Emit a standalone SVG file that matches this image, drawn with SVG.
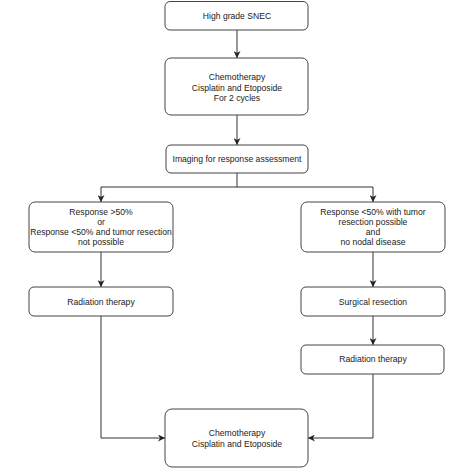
<svg xmlns="http://www.w3.org/2000/svg" width="474" height="474" viewBox="0 0 474 474">
<style>
.box{fill:#fff;stroke:#444;stroke-width:1}
.t{font-family:"Liberation Sans",Arial,sans-serif;font-size:8.6px;fill:#222;text-anchor:middle}
.c{fill:none;stroke:#333;stroke-width:1}
</style>
<defs>
<marker id="ah" viewBox="0 0 10 10" refX="10" refY="5" markerWidth="7" markerHeight="7" markerUnits="userSpaceOnUse" orient="auto">
<path d="M0,0 L10,5 L0,10 L3,5 z" fill="#222"/>
</marker>
</defs>
<rect width="474" height="474" fill="#fff"/>
<g id="connectors">
<path class="c" d="M237,30 V58" marker-end="url(#ah)"/>
<path class="c" d="M237,115 V145" marker-end="url(#ah)"/>
<path class="c" d="M237,173 V187"/>
<path class="c" d="M101,187 H373"/>
<path class="c" d="M101,187 V202" marker-end="url(#ah)"/>
<path class="c" d="M373,187 V202" marker-end="url(#ah)"/>
<path class="c" d="M101,252 V287" marker-end="url(#ah)"/>
<path class="c" d="M373,252 V287" marker-end="url(#ah)"/>
<path class="c" d="M373,316 V345" marker-end="url(#ah)"/>
<path class="c" d="M101,316 V438 H165" marker-end="url(#ah)"/>
<path class="c" d="M373,374 V438 H308" marker-end="url(#ah)"/>
</g>
<g id="n1"><rect class="box" x="165" y="1.5" width="143" height="28.5" rx="5"/><text class="t" x="237" y="19">High grade SNEC</text></g>
<g id="n2"><rect class="box" x="165" y="58" width="143" height="57" rx="6"/><text class="t" x="237" y="80">Chemotherapy</text><text class="t" x="237" y="90.5">Cisplatin and Etoposide</text><text class="t" x="237" y="101">For 2 cycles</text></g>
<g id="n3"><rect class="box" x="166" y="145" width="142" height="28" rx="5"/><text class="t" x="237" y="162">Imaging for response assessment</text></g>
<g id="n4"><rect class="box" x="29" y="202" width="144" height="50" rx="6"/><text class="t" x="101" y="215">Response &gt;50%</text><text class="t" x="101" y="225">or</text><text class="t" x="101" y="235">Response &lt;50% and tumor resection</text><text class="t" x="101" y="245">not possible</text></g>
<g id="n5"><rect class="box" x="29" y="287" width="144" height="29" rx="5"/><text class="t" x="101" y="305">Radiation therapy</text></g>
<g id="n6"><rect class="box" x="301" y="202" width="144" height="50" rx="6"/><text class="t" x="373" y="215">Response &lt;50% with tumor</text><text class="t" x="373" y="225">resection possible</text><text class="t" x="373" y="235">and</text><text class="t" x="373" y="245">no nodal disease</text></g>
<g id="n7"><rect class="box" x="301" y="287" width="144" height="29" rx="5"/><text class="t" x="373" y="305">Surgical resection</text></g>
<g id="n8"><rect class="box" x="301" y="345" width="143" height="29" rx="5"/><text class="t" x="373" y="362">Radiation therapy</text></g>
<g id="n9"><rect class="box" x="165" y="409" width="143" height="58" rx="7"/><text class="t" x="237" y="436">Chemotherapy</text><text class="t" x="237" y="446.5">Cisplatin and Etoposide</text></g>
</svg>
